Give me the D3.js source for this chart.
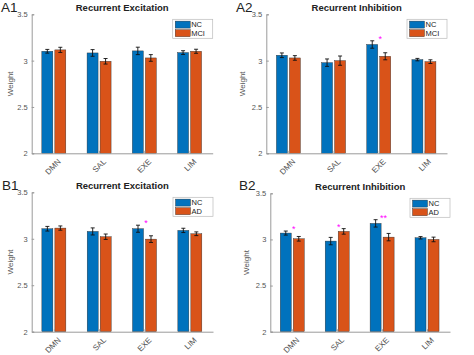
<!DOCTYPE html>
<html><head><meta charset="utf-8">
<script src="https://cdn.jsdelivr.net/npm/d3@7"></script>
<style>body{margin:0;background:#fff}svg{display:block}text{font-family:"Liberation Sans",Arial,sans-serif}</style>
</head><body><svg id="c" width="474" height="355"></svg>
<script>
const categories = ["DMN","SAL","EXE","LIM"];
const yTicks = [2, 2.5, 3, 3.5];
const yTickLabels = ["2","2.5","3","3.5"];

const a1NC = [3.101,3.083,3.105,3.087], a1NCErr = [0.02,0.036,0.04,0.02];
const a1MCI = [3.116,2.993,3.029,3.101], a1MCIErr = [0.028,0.03,0.036,0.022];
const a1Sig = ["","","",""];

const a2NC = [3.058,2.978,3.174,3.011], a2NCErr = [0.025,0.04,0.04,0.013];
const a2MCI = [3.029,3.0,3.047,2.989], a2MCIErr = [0.025,0.05,0.038,0.02];
const a2Sig = ["","","*",""];

const b1NC = [3.108,3.079,3.108,3.09], b1NCErr = [0.025,0.038,0.038,0.023];
const b1AD = [3.115,3.022,2.996,3.054], b1ADErr = [0.023,0.029,0.036,0.02];
const b1Sig = ["","","*",""];

const b2NC = [3.069,2.982,3.174,3.018], b2NCErr = [0.022,0.04,0.04,0.013];
const b2AD = [3.007,3.087,3.025,3.0], b2ADErr = [0.025,0.03,0.04,0.025];
const b2Sig = ["*","*","**",""];

const colNC = "#0072BD", colP = "#D95319";
const svg = d3.select("#c");

function panel(o){
  const g = svg.append("g");
  const x = d3.scaleBand().domain(categories).range([o.left, o.right]);
  const y = d3.scaleLinear().domain([2,3.5]).range([o.bottom, o.top]);
  const series = ["NC", o.pname];
  const inner = d3.scaleBand().domain(series).range([-12.5, 11.5]).paddingInner(2/13);
  const vals = [o.nc, o.p], errs = [o.ncErr, o.pErr], cols = [colNC, colP];

  series.forEach((s,si)=>{
    g.selectAll(null).data(categories).join("rect")
      .attr("x", (c)=> x(c)+x.bandwidth()/2+inner(s))
      .attr("width", inner.bandwidth())
      .attr("y", (c,i)=> y(vals[si][i]))
      .attr("height", (c,i)=> y(2)-y(vals[si][i]))
      .attr("fill", cols[si]).attr("stroke","#2a2a2a").attr("stroke-width",0.4);
    categories.forEach((c,i)=>{
      const cx = x(c)+x.bandwidth()/2+inner(s)+inner.bandwidth()/2;
      const v = vals[si][i], e = errs[si][i];
      g.append("line").attr("x1",cx).attr("x2",cx).attr("y1",y(v-e)).attr("y2",y(v+e)).attr("stroke","#111").attr("stroke-width",0.9);
      [v-e, v+e].forEach(t=>g.append("line").attr("x1",cx-2).attr("x2",cx+2).attr("y1",y(t)).attr("y2",y(t)).attr("stroke","#111").attr("stroke-width",0.9));
    });
  });

  categories.forEach((c,i)=>{
    if(!o.sig[i]) return;
    const top = Math.max(o.nc[i]+o.ncErr[i], o.p[i]+o.pErr[i]);
    g.append("text").attr("x", x(c)+x.bandwidth()/2+1).attr("y", y(top)+1)
      .attr("text-anchor","middle").attr("font-size",9).attr("fill","#ff00ff").text(o.sig[i]);
  });

  const yAxis = d3.axisLeft(y).tickValues(yTicks).tickFormat((d,i)=>yTickLabels[i]).tickSize(-2.5).tickPadding(4);
  const ya = g.append("g").attr("transform",`translate(${o.left},0)`).call(yAxis);
  ya.select(".domain").attr("stroke","#9a9a9a");
  ya.selectAll(".tick line").attr("stroke","#9a9a9a");
  ya.selectAll(".tick text").attr("font-size",7.5).attr("fill","#555").attr("font-family","Liberation Sans, Arial, sans-serif");

  const xAxis = d3.axisBottom(x).tickSize(-2.5).tickSizeOuter(0).tickFormat("");
  const xa = g.append("g").attr("transform",`translate(0,${o.bottom})`).call(xAxis);
  xa.select(".domain").attr("stroke","#9a9a9a");
  xa.selectAll(".tick line").attr("stroke","#9a9a9a");
  const xl = g.selectAll(null).data(categories).join("g")
    .attr("transform", c=>`translate(${x(c)+x.bandwidth()/2+3},${o.bottom+5}) rotate(-45)`);
  xl.append("text").attr("x",0).attr("y",0).attr("dy","0.7em")
    .attr("text-anchor","end")
    .attr("font-size",8).attr("fill","#555").text(c=>c);

  g.append("text").attr("transform",`translate(${o.ylabX},${(o.top+o.bottom)/2}) rotate(-90)`)
    .attr("text-anchor","middle").attr("font-size",8).attr("fill","#555").text("Weight");

  g.append("text").attr("x",(o.left+o.right)/2).attr("y",o.top-3.5).attr("text-anchor","middle")
    .attr("font-size",9.5).attr("font-weight","bold").attr("fill","#222").text(o.title);

  g.append("text").attr("x",o.labX).attr("y",o.labY).attr("font-size",13.5).attr("fill","#222").text(o.label);

  const lw = 40, lh = 19, lx = o.right - lw, ly = o.top + 5;
  const lg = g.append("g");
  lg.append("rect").attr("x",lx).attr("y",ly).attr("width",lw).attr("height",lh).attr("fill","#fff").attr("stroke","#bbb").attr("stroke-width",0.7);
  series.forEach((s,si)=>{
    lg.append("rect").attr("x",lx+2.5).attr("y",ly+1.8+si*8.6).attr("width",15).attr("height",7)
      .attr("fill",cols[si]).attr("stroke","#2a2a2a").attr("stroke-width",0.4);
    lg.append("text").attr("x",lx+18.5).attr("y",ly+8+si*8.6).attr("font-size",7.5).attr("fill","#222").text(s);
  });
}

panel({left:31.7,right:212.7,top:14.3,bottom:153.3,nc:a1NC,ncErr:a1NCErr,p:a1MCI,pErr:a1MCIErr,pname:"MCI",sig:a1Sig,title:"Recurrent Excitation",label:"A1",labX:1,labY:12,ylabX:13});
panel({left:266.3,right:447,top:14.3,bottom:153.3,nc:a2NC,ncErr:a2NCErr,p:a2MCI,pErr:a2MCIErr,pname:"MCI",sig:a2Sig,title:"Recurrent Inhibition",label:"A2",labX:236,labY:12,ylabX:245});
panel({left:31.7,right:213,top:192.3,bottom:331.7,nc:b1NC,ncErr:b1NCErr,p:b1AD,pErr:b1ADErr,pname:"AD",sig:b1Sig,title:"Recurrent Excitation",label:"B1",labX:2,labY:190,ylabX:13});
panel({left:270.3,right:450,top:193.3,bottom:331.7,nc:b2NC,ncErr:b2NCErr,p:b2AD,pErr:b2ADErr,pname:"AD",sig:b2Sig,title:"Recurrent Inhibition",label:"B2",labX:239,labY:190,ylabX:249});
</script></body></html>
